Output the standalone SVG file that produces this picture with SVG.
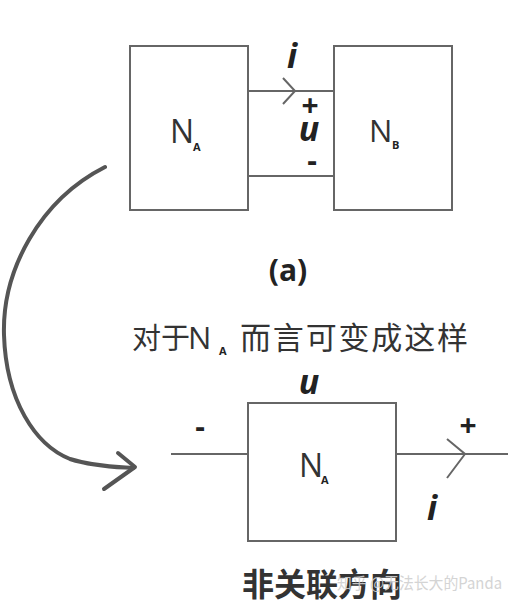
<svg xmlns="http://www.w3.org/2000/svg" width="516" height="607" viewBox="0 0 516 607">
<style>
.ln{fill:none;stroke:#666;stroke-width:2}
.box{fill:#fff;stroke:#666;stroke-width:2}
.lat{font-family:"Open Sans","Liberation Sans",sans-serif;fill:#333}
.var{font-family:"Open Sans","Liberation Sans",sans-serif;font-weight:700;font-style:italic;fill:#222}
.sign{font-family:"Open Sans","Liberation Sans",sans-serif;font-weight:700;fill:#222}
.sub{font-family:"Open Sans","Liberation Sans",sans-serif;font-weight:700;fill:#222;font-size:11px}
.cjk{font-family:"Noto Sans CJK SC",sans-serif;fill:#333}
</style>
<rect width="516" height="607" fill="#fff"/>
<g id="connectors">
<line class="ln" x1="248" y1="91" x2="334" y2="91"/>
<polyline class="ln" points="283,78 295,91 283,104"/>
<line class="ln" x1="248" y1="176" x2="334" y2="176"/>
<line class="ln" x1="171" y1="454" x2="248" y2="454"/>
<line class="ln" x1="396" y1="454" x2="508" y2="454"/>
<polyline class="ln" points="447,439 465,454 447,478"/>
<path d="M105,167 C40,200 2,270 4,335 C6,400 35,445 70,459 C95,467 118,467 133,468" fill="none" stroke="#555" stroke-width="4" stroke-linecap="round"/>
<polyline points="118,453 135,467 104,489" fill="none" stroke="#555" stroke-width="4" stroke-linecap="round" stroke-linejoin="round"/>
</g>
<g id="NA-top">
<rect class="box" x="130" y="46" width="118" height="164"/>
<text class="lat" x="170" y="143" font-size="32">N</text>
<text class="sub" x="193" y="151">A</text>
</g>
<g id="NB-top">
<rect class="box" x="334" y="46" width="118" height="164"/>
<text class="lat" x="369" y="142" font-size="31">N</text>
<text class="sub" x="392" y="149" font-size="10">B</text>
</g>
<g id="labels-top">
<text class="var" x="292" y="68" font-size="34" text-anchor="middle">i</text>
<text class="sign" x="310" y="116" font-size="30" text-anchor="middle">+</text>
<text class="var" x="309" y="141" font-size="34" text-anchor="middle">u</text>
<text class="sign" x="312" y="171" font-size="30" text-anchor="middle">-</text>
<text class="sign" x="288" y="281" font-size="30" text-anchor="middle" fill="#333">(a)</text>
</g>
<g id="caption">
<text class="cjk" x="132" y="349" font-size="29">对于</text>
<text class="lat" x="188" y="349" font-size="31">N</text>
<text class="sub" x="219" y="355">A</text>
<text class="cjk" x="240" y="349" font-size="31" textLength="228" lengthAdjust="spacing">而言可变成这样</text>
</g>
<g id="NA-bottom">
<rect class="box" x="248" y="403" width="148" height="138"/>
<text class="lat" x="299" y="477" font-size="32">N</text>
<text class="sub" x="321" y="484">A</text>
</g>
<g id="labels-bottom">
<text class="var" x="309" y="394" font-size="34" text-anchor="middle">u</text>
<text class="sign" x="200" y="437" font-size="30" text-anchor="middle">-</text>
<text class="sign" x="468" y="436" font-size="30" text-anchor="middle">+</text>
<text class="var" x="432" y="520" font-size="34" text-anchor="middle">i</text>
</g>
<g id="title">
<text class="cjk" x="242" y="596" font-size="32" font-weight="700" fill="#222">非关联方向</text>
<text x="337" y="589" font-size="16" font-family="Noto Sans CJK SC,Noto Sans,sans-serif" fill="#d0d0d0" opacity="0.9" textLength="165" lengthAdjust="spacingAndGlyphs">知乎 @无法长大的Panda</text>
</g>
</svg>
